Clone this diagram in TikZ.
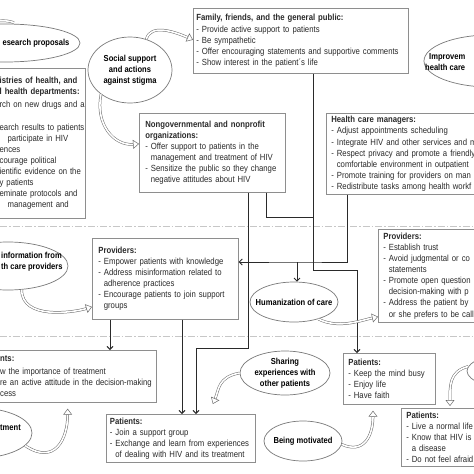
\documentclass[tikz,border=0pt]{standalone}
\usepackage{fontspec}
\setmainfont{Liberation Sans}[FakeStretch=0.87]
\usepackage{tikz}
\usetikzlibrary{arrows.meta,positioning,calc,shapes.geometric}
\definecolor{ink}{HTML}{2A2A2A}
\definecolor{rim}{HTML}{8E8E8E}
\newcommand{\contd}{\hspace*{5.5pt}}
\hyphenpenalty=10000
\exhyphenpenalty=10000

\begin{document}
\begin{tikzpicture}[x=1pt, y=-1pt, font=\fontsize{8.9}{11.1}\selectfont, text=ink]
  \tikzstyle{box}=[draw=rim, line width=0.7pt, fill=white, anchor=north west, align=left, inner xsep=5pt, inner ysep=3pt]
  \tikzstyle{ell}=[ellipse, draw=rim!85!black, line width=0.7pt, fill=white, inner sep=0pt]
  \tikzstyle{tag}=[inner sep=0pt, align=center, font=\fontsize{8.7}{10.8}\selectfont\bfseries, text=black]
  \tikzstyle{link}=[draw=ink, line width=0.9pt]
  \tikzstyle{hollow}=[draw=rim!75!black, line width=0.5pt, double=white, double distance=1.6pt, -{Triangle[open, length=6pt, width=9pt]}]
  \tikzstyle{divider}=[draw=black!22, line width=0.7pt, dash pattern=on 7pt off 2pt on 1.5pt off 2pt]

  \useasboundingbox (0,0) rectangle (474,474);
  \clip (0,0) rectangle (474,474);

  % level dividers
  \draw[divider] (0,226) -- (474,226);
  \draw[divider] (0,336) -- (474,336);

  % top level
  \node[ell, minimum width=150, minimum height=38] (rp) at (5,43) {};
  \node[tag] (rpt) at (36,43) {esearch proposals};
  \node[box, anchor=north east, text width=85, inner xsep=1pt, minimum height=150] (min) at (86,68) {\textbf{istries of health, and}\\\textbf{l health departments:}\\[2pt]rch on new drugs and a\\\mbox{}\\earch results to patients\\\hspace*{8pt}participate in HIV\\ences\\courage political\\ientific evidence on the\\y patients\\eminate protocols and\\\hspace*{8pt}management and};
  \node[ell, minimum width=84, minimum height=66] (ss) at (130,70) {};
  \node[tag] (sst) at (ss) {Social support\\and actions\\against stigma};
  \node[box, text width=209, inner xsep=3pt, minimum height=65] (fam) at (193,8) {\textbf{Family, friends, and the general public:}\\- Provide active support to patients\\- Be sympathetic\\- Offer encouraging statements and supportive comments\\- Show interest in the patient´s life};
  \node[ell, minimum width=132, minimum height=52] (imp) at (490,61) {};
  \node[tag, align=left, anchor=west] (impt) at (425,62) {\hspace*{4pt}Improvem\\health care};
  \node[box, text width=134, inner xsep=6pt, minimum height=79] (ngo) at (139,113) {\textbf{Nongovernmental and nonprofit}\\\textbf{organizations:}\\- Offer support to patients in the\\\contd management and treatment of HIV\\- Sensitize the public so they change\\\contd negative attitudes about HIV};
  \node[box, text width=200, minimum height=79] (hcm) at (326,113) {\textbf{Health care managers:}\\- Adjust appointments scheduling\\- Integrate HIV and other services and m\\- Respect privacy and promote a friendly,\\\contd comfortable environment in outpatient\\- Promote training for providers on man\\- Redistribute tasks among health workf};

  % middle level
  \node[ell, minimum width=120, minimum height=48] (info) at (8,266) {};
  \node[tag, align=left, anchor=west] (infot) at (1,262) {information from\\th care providers};
  \node[box, text width=134, inner xsep=6pt, minimum height=81] (provl) at (92,238) {\textbf{Providers:}\\- Empower patients with knowledge\\- Address misinformation related to\\\contd adherence practices\\- Encourage patients to join support\\\contd groups};
  \node[ell, minimum width=88, minimum height=40] (hum) at (294,302) {};
  \node[tag] (humt) at (hum) {Humanization of care};
  \node[box, text width=130, minimum height=93] (provr) at (378,229) {\textbf{Providers:}\\- Establish trust\\- Avoid judgmental or co\\\contd statements\\- Promote open question\\\contd decision-making with p\\- Address the patient by\\\contd or she prefers to be call};

  % bottom level
  \node[box, anchor=north east, text width=155, inner xsep=1.5pt, minimum height=52] (patl) at (157,350) {\textbf{nts:}\\[2pt]w the importance of treatment\\re an active attitude in the decision-making\\cess};
  \node[ell, minimum width=108, minimum height=50] (adh) at (-22,433) {};
  \node[tag, anchor=west] (adht) at (0,428) {tment};
  \node[box, text width=142, inner xsep=3.5pt, minimum height=48] (patb) at (106,414) {\textbf{Patients:}\\- Join a support group\\- Exchange and learn from experiences\\\contd of dealing with HIV and its treatment};
  \node[ell, minimum width=90, minimum height=44] (shr) at (285,373) {};
  \node[tag] (shrt) at (shr) {Sharing\\experiences with\\other patients};
  \node[ell, minimum width=78, minimum height=40] (mot) at (303,441) {};
  \node[tag] (mott) at (mot) {Being motivated};
  \node[box, text width=82, minimum height=51] (patm) at (343,353) {\textbf{Patients:}\\- Keep the mind busy\\- Enjoy life\\- Have faith};
  \node[box, text width=100, minimum height=58] (patr) at (401,408) {\textbf{Patients:}\\- Live a normal life\\- Know that HIV is\\\contd a disease\\- Do not feel afraid};
  \node[ell, minimum width=106, minimum height=37] (acc) at (520,371) {};

  % connectors
  \coordinate (k1) at (313,270);
  \coordinate (k2) at (297,262);
  \coordinate (k3) at ([xshift=18pt]provl.south west);
  \draw[link, -{Straight Barb[length=3pt,width=6pt]}] ([xshift=120pt]fam.south west) -- (k1) -| ([xshift=14pt]patm.north west);
  \draw[link] ([xshift=127pt]ngo.south west) -- ++(0,25) -| (k1);
  \draw[link, -{Straight Barb[length=3pt,width=6pt]}] ([xshift=21pt]hcm.south west) |- (k2) -- (k2 -| provl.east);
  \draw[link, -{Straight Barb[length=3pt,width=6pt]}] (k2) -- (k2 |- hum.north);
  \draw[link, -{Straight Barb[length=3pt,width=6pt]}] ([xshift=109pt]ngo.south west) -- ++(0,156) -| ([xshift=90pt]patb.north west);
  \draw[link, -{Straight Barb[length=3pt,width=6pt]}] ([xshift=90pt]provl.south west) -- ([xshift=76pt]patb.north west);
  \draw[link, -{Straight Barb[length=3pt,width=6pt]}] (k3) -- (k3 |- patl.north);

  % hollow arrows
  \coordinate (h1) at ([yshift=-28pt]provl.west);
  \coordinate (h2) at ([xshift=32pt,yshift=10pt]patb.north);
  \coordinate (h3) at ([xshift=-10pt,yshift=-6pt]patl.south);
  \coordinate (h4) at ([xshift=30pt,yshift=-6pt]patm.south west);
  \coordinate (h5) at ([xshift=49pt,yshift=2pt]patr.north west);
  \draw[hollow, -] ([xshift=9pt,yshift=1pt]rp.north) .. controls +(-8,-3) and +(8,-2) .. ++(-24,0);
  \draw[hollow] (ss.62) .. controls +(4,-16) and +(-18,-8) .. ([yshift=1pt]fam.west);
  \draw[hollow] (ss.220) .. controls +(-6,30) and +(-25,2) .. ([yshift=9pt]ngo.west);
  \draw[hollow] (info.-60) .. controls +(0,30) and +(-20,6) .. (h1);
  \draw[hollow] (hum.-35) .. controls +(20,10) and +(-18,4) .. ([yshift=6pt]provr.south west);
  \draw[hollow] (shr.180) .. controls +(-22,4) and +(6,-14) .. (h2);
  \draw[hollow] (adh.-15) .. controls +(30,20) and +(0,30) .. (h3);
  \draw[hollow] (mot.-5) .. controls +(22,10) and +(0,25) .. (h4);
  \draw[hollow] (acc.175) .. controls +(-20,5) and +(0,-18) .. (h5);
\end{tikzpicture}
\end{document}
